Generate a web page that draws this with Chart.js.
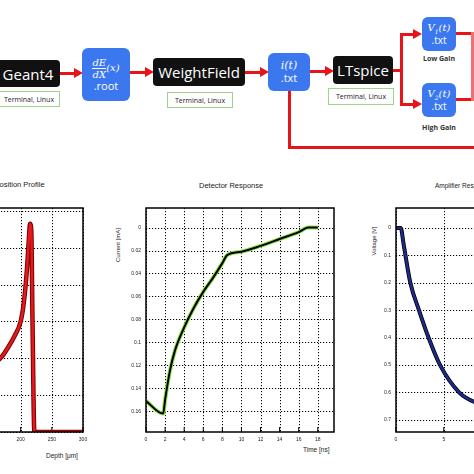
<!DOCTYPE html>
<html><head><meta charset="utf-8">
<script src="https://cdn.jsdelivr.net/npm/chart.js@4/dist/chart.umd.min.js"></script>
<style>
html,body{margin:0;padding:0;width:474px;height:474px;overflow:hidden;background:#fff;position:relative;font-family:"Open Sans",sans-serif}
.a{position:absolute}
.blk{position:absolute;background:#111;color:#fff;border-radius:4px;display:flex;align-items:center;justify-content:center;font-size:15px}
.blu{position:absolute;background:#3b78f0;color:#fff;border-radius:6px;display:flex;flex-direction:column;align-items:center;justify-content:center;font-size:11px;line-height:1.1}
.grn{position:absolute;border:1.5px solid #9fd58a;font-size:7px;display:flex;align-items:center;justify-content:center;color:#222;background:#fff;box-sizing:border-box}
.r{position:absolute;background:#e8141a}
.ct{position:absolute;font-family:"Liberation Sans",sans-serif;font-size:7.5px;color:#222;white-space:nowrap}
canvas{position:absolute}
</style></head><body>
<!-- flowchart -->
<div class="r" style="left:60px;top:72px;width:16px;height:3px"></div>
<div class="a" style="left:74px;top:68px;border-left:9px solid #e8141a;border-top:5px solid transparent;border-bottom:5px solid transparent"></div>
<div class="r" style="left:130px;top:71px;width:16px;height:3px"></div>
<div class="a" style="left:145px;top:67px;border-left:9px solid #e8141a;border-top:5px solid transparent;border-bottom:5px solid transparent"></div>
<div class="r" style="left:245px;top:71px;width:16px;height:3px"></div>
<div class="a" style="left:260px;top:67px;border-left:9px solid #e8141a;border-top:5px solid transparent;border-bottom:5px solid transparent"></div>
<div class="r" style="left:310px;top:70px;width:16px;height:3px"></div>
<div class="a" style="left:325px;top:66px;border-left:9px solid #e8141a;border-top:5px solid transparent;border-bottom:5px solid transparent"></div>
<div class="r" style="left:393px;top:69px;width:10px;height:3px"></div>
<div class="r" style="left:400px;top:33px;width:3px;height:73px"></div>
<div class="r" style="left:400px;top:33px;width:15px;height:3px"></div>
<div class="a" style="left:413px;top:29px;border-left:9px solid #e8141a;border-top:5px solid transparent;border-bottom:5px solid transparent"></div>
<div class="r" style="left:400px;top:103px;width:15px;height:3px"></div>
<div class="a" style="left:413px;top:99px;border-left:9px solid #e8141a;border-top:5px solid transparent;border-bottom:5px solid transparent"></div>
<div class="r" style="left:456px;top:32px;width:18px;height:3px"></div>
<div class="r" style="left:456px;top:98px;width:18px;height:3px"></div>
<div class="r" style="left:471px;top:32px;width:3px;height:69px;background:#f07070"></div>
<div class="r" style="left:288px;top:91px;width:3px;height:58px"></div>
<div class="r" style="left:288px;top:146px;width:186px;height:3px"></div>
<div class="blk" style="left:-4px;top:60px;width:64px;height:27px">Geant4</div>
<div class="grn" style="left:-2px;top:91px;width:62px;height:16px">Terminal, Linux</div>
<div class="blu" style="left:82px;top:48px;width:48px;height:53px"><span style="font-style:italic;font-family:'DejaVu Serif',serif;font-size:10px"><span style="display:inline-block;text-align:center;vertical-align:middle"><span style="border-bottom:1px solid #fff;display:block">dE</span>dX</span>(x)</span><span>.root</span></div>
<div class="blk" style="left:153px;top:58px;width:92px;height:28px">WeightField</div>
<div class="grn" style="left:167px;top:92px;width:66px;height:16px">Terminal, Linux</div>
<div class="blu" style="left:268px;top:53px;width:42px;height:38px;font-size:11px"><span style="font-style:italic;font-family:'DejaVu Serif',serif">i(t)</span><span>.txt</span></div>
<div class="blk" style="left:333px;top:56px;width:60px;height:28px">LTspice</div>
<div class="grn" style="left:328px;top:88px;width:66px;height:17px">Terminal, Linux</div>
<div class="blu" style="left:422px;top:17px;width:34px;height:34px;font-size:10px"><span style="font-style:italic;font-family:'DejaVu Serif',serif">V<sub style="font-size:6px">1</sub>(t)</span><span>.txt</span></div>
<div class="a" style="left:418px;top:54px;width:42px;text-align:center;font-size:7px;font-weight:bold;color:#333">Low Gain</div>
<div class="blu" style="left:422px;top:83px;width:34px;height:34px;font-size:10px"><span style="font-style:italic;font-family:'DejaVu Serif',serif">V<sub style="font-size:6px">2</sub>(t)</span><span>.txt</span></div>
<div class="a" style="left:414px;top:123px;width:50px;text-align:center;font-size:7px;font-weight:bold;color:#333">High Gain</div>

<!-- chart texts -->
<div class="ct" style="left:-40px;top:180px">Energy Deposition Profile</div>
<div class="ct" style="left:46px;top:452px;font-size:6.5px">Depth [μm]</div>
<div class="ct" style="left:199px;top:181px">Detector Response</div>
<div class="ct" style="left:303px;top:446px;font-size:6.5px">Time [ns]</div>
<div class="ct" style="left:101px;top:242px;font-size:6px;transform:rotate(-90deg)">Current [mA]</div>
<div class="ct" style="left:435px;top:182px;font-size:6.5px">Amplifier Response</div>
<div class="ct" style="left:359px;top:238px;font-size:6px;transform:rotate(-90deg)">Voltage [V]</div>

<canvas id="c1" style="left:-140px;top:200px;width:233px;height:260px" width="233" height="260"></canvas>
<canvas id="c2" style="left:110px;top:200px;width:235px;height:260px" width="235" height="260"></canvas>
<canvas id="c3" style="left:360px;top:200px;width:240px;height:260px" width="240" height="260"></canvas>

<script>
// Energy deposition profile
const depthX = [0,50,100,140,160,170,180,190,200,205,210,213,215,217,219,222,300];
const depthY = [1.3,1.4,1.55,1.75,1.9,2.05,2.3,2.6,3.0,3.5,4.4,5.2,5.65,5.5,3.0,0,0];
const depthTicksX = [0,50,100,150,200,250,300];
const depthTicksY = [0,1,2,3,4,5,6];
// Detector response (current, axis reversed)
const timeX = [0,1.8,2,2.5,3,4,5,6,7,8,8.5,10,12,14,16,17,18];
const currY = [0.151,0.162,0.15,0.125,0.108,0.087,0.07,0.056,0.044,0.031,0.024,0.021,0.016,0.010,0.004,0,0];
const timeTicks = [0,2,4,6,8,10,12,14,16,18];
const currTicks = [0,0.02,0.04,0.06,0.08,0.1,0.12,0.14,0.16];
// Amplifier response (voltage, axis reversed)
const ampX = [0,0.5,0.8,1.5,2.4,3.4,4.6,6.6,8.5,10,12,14,16,18,20];
const ampY = [0,0,0.06,0.2,0.3,0.4,0.5,0.6,0.64,0.655,0.66,0.655,0.645,0.63,0.62];
const ampTicksX = [0,5,10,15,20];
const ampTicksY = [0,0.1,0.2,0.3,0.4,0.5,0.6,0.7];

function pts(xs,ys){return xs.map((x,i)=>({x:x,y:ys[i]}));}
const frame={id:'frame',
  beforeDatasetsDraw(c){const a=c.chartArea,x=c.ctx;x.save();x.strokeStyle='#000';x.lineWidth=1;x.setLineDash([1.2,1.8]);
    c.scales.x.ticks.forEach(t=>{const p=Math.round(c.scales.x.getPixelForValue(t.value))+0.5;x.beginPath();x.moveTo(p,a.top);x.lineTo(p,a.bottom);x.stroke();});
    c.scales.y.ticks.forEach(t=>{const p=Math.round(c.scales.y.getPixelForValue(t.value))+0.5;x.beginPath();x.moveTo(a.left,p);x.lineTo(a.right,p);x.stroke();});
    x.setLineDash([]);x.lineWidth=1;
    c.scales.x.ticks.forEach(t=>{const p=c.scales.x.getPixelForValue(t.value);x.beginPath();x.moveTo(p,a.bottom);x.lineTo(p,a.bottom-5);x.stroke();});
    x.restore();},
  afterDraw(c){const a=c.chartArea,x=c.ctx;x.save();x.strokeStyle='#000';x.lineWidth=1.5;x.strokeRect(a.left,a.top,a.right-a.left,a.bottom-a.top);x.restore();}};
function mk(id,xs,ys,cols,wids,xr,yr,xt,yt,rev,padR,fmt){
  const ds = cols.map((c,i)=>({data:pts(xs,ys),borderColor:c,borderWidth:wids[i],pointRadius:0,cubicInterpolationMode:'monotone',order:cols.length-i}));
  const grid={display:true,drawOnChartArea:false,drawTicks:false};
  const border={display:false};
  const font={family:'Liberation Sans',size:5};
  new Chart(document.getElementById(id),{type:'line',data:{datasets:ds},plugins:[frame],
    options:{responsive:false,animation:false,layout:{padding:{top:7,right:padR,left:0,bottom:0}},
      plugins:{legend:{display:false},tooltip:{enabled:false}},
      scales:{
        x:{type:'linear',min:xr[0],max:xr[1],grid:grid,border:border,
          ticks:{font:font,color:'#222',padding:5,maxRotation:0,callback:v=>String(v)},
          afterBuildTicks:s=>{s.ticks=xt.map(v=>({value:v}));},afterFit:s=>{s.height=28;}},
        y:{type:'linear',min:yr[0],max:yr[1],reverse:rev,grid:grid,border:border,
          ticks:{font:font,color:'#222',padding:5,callback:fmt},
          afterBuildTicks:s=>{s.ticks=yt.map(v=>({value:v}));},afterFit:s=>{s.width=36;}}
      }}});
}
const f=v=>String(+v.toFixed(2));
mk('c1',depthX,depthY,['#7a0000','#e5191b'],[4.5,2.5],[0,300],[0,6.08],depthTicksX,depthTicksY,false,10,f);
mk('c2',timeX,currY,['#8fe04a','#000'],[4,2],[0,19.7],[-0.017,0.178],timeTicks,currTicks,true,11,f);
mk('c3',ampX,ampY,['#000','#1c2a8a'],[4,2.5],[0,20.3],[-0.073,0.745],ampTicksX,ampTicksY,true,10,f);
</script>
</body></html>
